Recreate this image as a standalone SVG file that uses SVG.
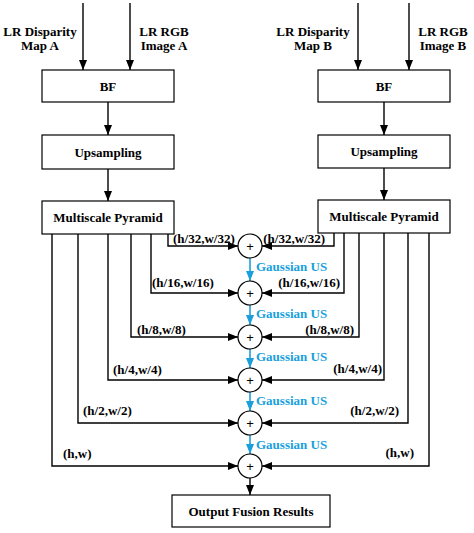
<svg xmlns="http://www.w3.org/2000/svg" width="474" height="533" viewBox="0 0 474 533">
<defs>
<marker id="ah" viewBox="0 0 10 8" refX="10" refY="4" markerWidth="10" markerHeight="8" markerUnits="userSpaceOnUse" orient="auto"><path d="M0,0 L10,4 L0,8 Z" fill="#000"/></marker>
<marker id="ahb" viewBox="0 0 10 8" refX="10" refY="4" markerWidth="10" markerHeight="8" markerUnits="userSpaceOnUse" orient="auto"><path d="M0,0 L10,4 L0,8 Z" fill="#1a9fdc"/></marker>
</defs>
<style>
.t{font-family:'Liberation Serif','DejaVu Serif',serif;font-weight:bold;font-size:13px;fill:#000}
.box{fill:#fff;stroke:#000;stroke-width:1.2}
.ln{fill:none;stroke:#000;stroke-width:1.4}
.blue{fill:none;stroke:#1a9fdc;stroke-width:1.6}
.gus{fill:#1a9fdc}
.mid{text-anchor:middle}
.end{text-anchor:end}
.plus{font-family:'Liberation Sans',Arial,sans-serif;font-weight:normal;font-size:13px;fill:#000}
</style>
<rect width="474" height="533" fill="#fff"/>
<g id="connectors">
<path class="ln" d="M83,3 V70" marker-end="url(#ah)"/>
<path class="ln" d="M130,3 V70" marker-end="url(#ah)"/>
<path class="ln" d="M358,3 V70" marker-end="url(#ah)"/>
<path class="ln" d="M409,3 V70" marker-end="url(#ah)"/>
<path class="ln" d="M108,102 V135" marker-end="url(#ah)"/>
<path class="ln" d="M384,102 V135" marker-end="url(#ah)"/>
<path class="ln" d="M108,169 V201" marker-end="url(#ah)"/>
<path class="ln" d="M384,168 V200" marker-end="url(#ah)"/>
<path class="ln" d="M168,234 V246 H238" marker-end="url(#ah)"/>
<path class="ln" d="M151,234 V293 H238" marker-end="url(#ah)"/>
<path class="ln" d="M131,234 V337 H238" marker-end="url(#ah)"/>
<path class="ln" d="M108,234 V380 H238" marker-end="url(#ah)"/>
<path class="ln" d="M78,234 V423 H238" marker-end="url(#ah)"/>
<path class="ln" d="M52,234 V466 H238" marker-end="url(#ah)"/>
<path class="ln" d="M334,233 V246 H262" marker-end="url(#ah)"/>
<path class="ln" d="M344,233 V293 H262" marker-end="url(#ah)"/>
<path class="ln" d="M359,233 V337 H262" marker-end="url(#ah)"/>
<path class="ln" d="M384,233 V380 H262" marker-end="url(#ah)"/>
<path class="ln" d="M408,233 V423 H262" marker-end="url(#ah)"/>
<path class="ln" d="M429,233 V466 H262" marker-end="url(#ah)"/>
<path class="blue" d="M250,258 V281" marker-end="url(#ahb)"/>
<path class="blue" d="M250,305 V325" marker-end="url(#ahb)"/>
<path class="blue" d="M250,349 V368" marker-end="url(#ahb)"/>
<path class="blue" d="M250,392 V411" marker-end="url(#ahb)"/>
<path class="blue" d="M250,435 V454" marker-end="url(#ahb)"/>
<path class="ln" d="M250,478 V495" marker-end="url(#ah)"/>
</g>
<g id="labels" font-family="Liberation Serif, DejaVu Serif, serif" font-weight="bold" font-size="13">
<text class="t mid" x="40" y="36">LR Disparity</text>
<text class="t mid" x="40" y="50">Map A</text>
<text class="t mid" x="164" y="36">LR RGB</text>
<text class="t mid" x="164" y="50">Image A</text>
<text class="t mid" x="313" y="36">LR Disparity</text>
<text class="t mid" x="313" y="50">Map B</text>
<text class="t mid" x="443" y="36">LR RGB</text>
<text class="t mid" x="443" y="50">Image B</text>
<text class="t" x="173" y="243">(h/32,w/32)</text>
<text class="t" x="152" y="287">(h/16,w/16)</text>
<text class="t" x="137" y="334">(h/8,w/8)</text>
<text class="t" x="113" y="374">(h/4,w/4)</text>
<text class="t" x="83" y="415">(h/2,w/2)</text>
<text class="t" x="63" y="458">(h,w)</text>
<text class="t end" x="325" y="243">(h/32,w/32)</text>
<text class="t end" x="340" y="287">(h/16,w/16)</text>
<text class="t end" x="354" y="334">(h/8,w/8)</text>
<text class="t end" x="382" y="373">(h/4,w/4)</text>
<text class="t end" x="399" y="415">(h/2,w/2)</text>
<text class="t end" x="414" y="457">(h,w)</text>
<text class="t gus" x="256" y="271">Gaussian US</text>
<text class="t gus" x="256" y="318">Gaussian US</text>
<text class="t gus" x="256" y="361">Gaussian US</text>
<text class="t gus" x="256" y="405">Gaussian US</text>
<text class="t gus" x="256" y="449">Gaussian US</text>
</g>
<g id="bfA"><rect class="box" x="42" y="70" width="132" height="32"/><text class="t mid" x="108" y="91">BF</text></g>
<g id="upA"><rect class="box" x="42" y="135" width="132" height="34"/><text class="t mid" x="108" y="157">Upsampling</text></g>
<g id="pyrA"><rect class="box" x="42" y="201" width="132" height="33"/><text class="t mid" x="108" y="222">Multiscale Pyramid</text></g>
<g id="bfB"><rect class="box" x="318" y="70" width="132" height="32"/><text class="t mid" x="384" y="91">BF</text></g>
<g id="upB"><rect class="box" x="318" y="135" width="132" height="33"/><text class="t mid" x="384" y="156">Upsampling</text></g>
<g id="pyrB"><rect class="box" x="318" y="200" width="132" height="33"/><text class="t mid" x="384" y="221">Multiscale Pyramid</text></g>
<g id="sum1"><circle class="box" cx="250" cy="246" r="12"/><text class="mid plus" x="250" y="250.5">+</text></g>
<g id="sum2"><circle class="box" cx="250" cy="293" r="12"/><text class="mid plus" x="250" y="297.5">+</text></g>
<g id="sum3"><circle class="box" cx="250" cy="337" r="12"/><text class="mid plus" x="250" y="341.5">+</text></g>
<g id="sum4"><circle class="box" cx="250" cy="380" r="12"/><text class="mid plus" x="250" y="384.5">+</text></g>
<g id="sum5"><circle class="box" cx="250" cy="423" r="12"/><text class="mid plus" x="250" y="427.5">+</text></g>
<g id="sum6"><circle class="box" cx="250" cy="466" r="12"/><text class="mid plus" x="250" y="470.5">+</text></g>
<g id="output"><rect class="box" x="172" y="495" width="158" height="32"/><text class="t mid" x="251" y="516">Output Fusion Results</text></g>
</svg>
